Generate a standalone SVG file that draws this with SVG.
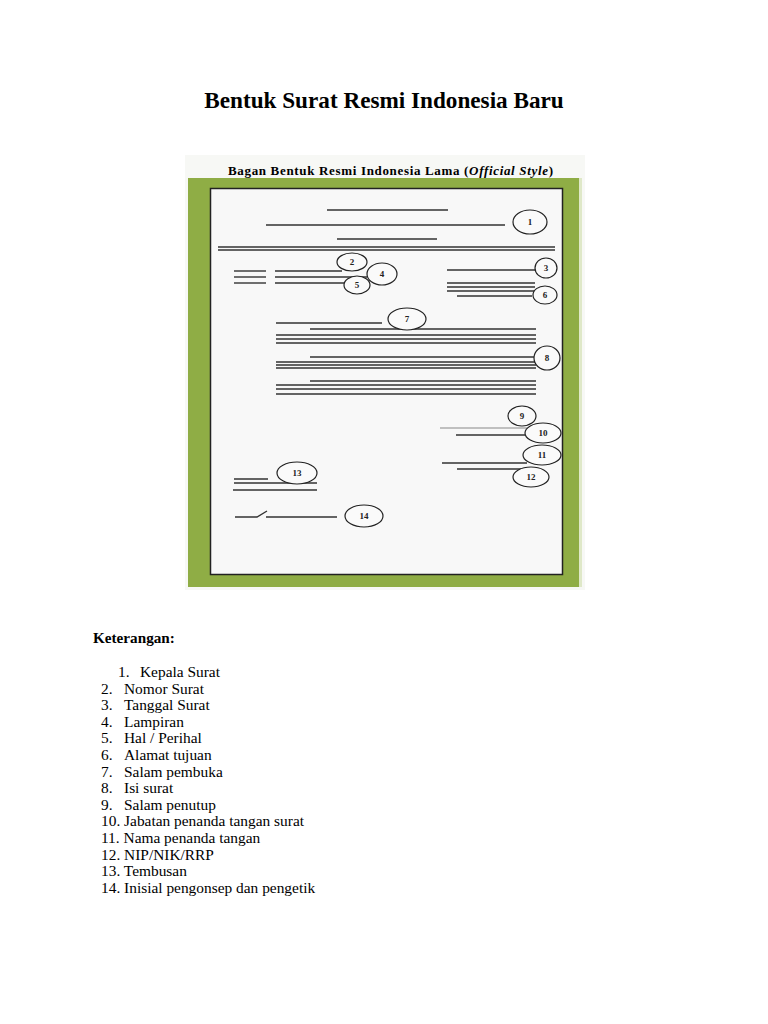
<svg xmlns="http://www.w3.org/2000/svg" width="768" height="1024" viewBox="0 0 768 1024">
<style>
.t{font-family:"Liberation Serif","Times New Roman",serif;fill:#000}
.ln{stroke:#333;stroke-width:1.4;fill:none}
.lg{stroke:#888;stroke-width:1;fill:none}
.c{fill:#fafafa;stroke:#222;stroke-width:1.2}
.n{font-family:"Liberation Serif",serif;font-weight:bold;font-size:9px;text-anchor:middle;fill:#222}
.li{font-family:"Liberation Serif","Times New Roman",serif;font-size:15.4px;fill:#000}
</style>
<rect width="768" height="1024" fill="#fff"/>
<text class="t" x="384" y="108" font-size="23.2" font-weight="bold" text-anchor="middle">Bentuk Surat Resmi Indonesia Baru</text>
<g id="figure">
<rect x="185" y="155" width="400" height="435" fill="#f7f8f5"/>
<text class="t" x="228" y="175" font-size="13" font-weight="bold" textLength="325" lengthAdjust="spacing">Bagan Bentuk Resmi Indonesia Lama (<tspan font-style="italic">Official Style</tspan>)</text>
<rect x="188" y="178" width="391" height="409" fill="#8fad45"/>
<rect x="579" y="178" width="3" height="409" fill="#dfe8c8"/>
<rect x="210.5" y="188.5" width="352" height="386" fill="#f8f8f8" stroke="#222" stroke-width="1.5"/>
</g>
<g id="connectors">
<line class="ln" x1="327" y1="210" x2="448" y2="210"/>
<line class="ln" x1="266" y1="225" x2="505" y2="225"/>
<line class="ln" x1="337" y1="239" x2="437" y2="239"/>
<line class="ln" x1="218" y1="247" x2="555" y2="247"/>
<line class="ln" x1="218" y1="250" x2="555" y2="250"/>
<line class="ln" x1="234" y1="271" x2="266" y2="271"/>
<line class="ln" x1="234" y1="277" x2="266" y2="277"/>
<line class="ln" x1="234" y1="283" x2="266" y2="283"/>
<line class="ln" x1="275" y1="271" x2="342" y2="271"/>
<line class="ln" x1="275" y1="277" x2="367" y2="277"/>
<line class="ln" x1="275" y1="283" x2="345" y2="283"/>
<line class="ln" x1="447" y1="270" x2="535" y2="270"/>
<line class="ln" x1="447" y1="283" x2="535" y2="283"/>
<line class="ln" x1="447" y1="287" x2="535" y2="287"/>
<line class="ln" x1="447" y1="291" x2="535" y2="291"/>
<line class="ln" x1="457" y1="296" x2="532" y2="296"/>
<line class="ln" x1="276" y1="323" x2="382" y2="323"/>
<line class="ln" x1="310" y1="329" x2="536" y2="329"/>
<line class="ln" x1="276" y1="335" x2="536" y2="335"/>
<line class="ln" x1="276" y1="339" x2="536" y2="339"/>
<line class="ln" x1="276" y1="343" x2="536" y2="343"/>
<line class="ln" x1="310" y1="357" x2="536" y2="357"/>
<line class="ln" x1="276" y1="362" x2="536" y2="362"/>
<line class="ln" x1="276" y1="365" x2="536" y2="365"/>
<line class="ln" x1="276" y1="368" x2="536" y2="368"/>
<line class="ln" x1="310" y1="381" x2="536" y2="381"/>
<line class="ln" x1="276" y1="385" x2="536" y2="385"/>
<line class="ln" x1="276" y1="389" x2="536" y2="389"/>
<line class="ln" x1="276" y1="394" x2="536" y2="394"/>
<line class="lg" x1="440" y1="428" x2="527" y2="428"/>
<line class="ln" x1="456" y1="435" x2="525" y2="435"/>
<line class="ln" x1="442" y1="463" x2="527" y2="463"/>
<line class="ln" x1="457" y1="469" x2="527" y2="469"/>
<line class="ln" x1="234" y1="479" x2="268" y2="479"/>
<line class="ln" x1="234" y1="483" x2="317" y2="483"/>
<line class="ln" x1="233" y1="490" x2="317" y2="490"/>
<polyline class="ln" points="235,517 257,517 267,511"/>
<line class="ln" x1="266" y1="517" x2="337" y2="517"/>
</g>
<g id="n1"><ellipse class="c" cx="530" cy="222" rx="17" ry="12"/><text class="n" x="530" y="225">1</text></g>
<g id="n2"><ellipse class="c" cx="352" cy="262" rx="15" ry="9"/><text class="n" x="352" y="265">2</text></g>
<g id="n4"><ellipse class="c" cx="382" cy="274" rx="15" ry="11"/><text class="n" x="382" y="277">4</text></g>
<g id="n5"><ellipse class="c" cx="357" cy="285" rx="13" ry="9"/><text class="n" x="357" y="288">5</text></g>
<g id="n3"><ellipse class="c" cx="546" cy="268" rx="11" ry="10"/><text class="n" x="546" y="271">3</text></g>
<g id="n6"><ellipse class="c" cx="545" cy="295" rx="12" ry="9"/><text class="n" x="545" y="298">6</text></g>
<g id="n7"><ellipse class="c" cx="407" cy="319" rx="19" ry="11"/><text class="n" x="407" y="322">7</text></g>
<g id="n8"><ellipse class="c" cx="547" cy="358" rx="13" ry="12"/><text class="n" x="547" y="361">8</text></g>
<g id="n9"><ellipse class="c" cx="522" cy="416" rx="14" ry="10"/><text class="n" x="522" y="419">9</text></g>
<g id="n10"><ellipse class="c" cx="543" cy="433" rx="18" ry="10"/><text class="n" x="543" y="436">10</text></g>
<g id="n11"><ellipse class="c" cx="542" cy="455" rx="19" ry="10"/><text class="n" x="542" y="458">11</text></g>
<g id="n12"><ellipse class="c" cx="531" cy="477" rx="18" ry="10"/><text class="n" x="531" y="480">12</text></g>
<g id="n13"><ellipse class="c" cx="297" cy="473" rx="20" ry="11"/><text class="n" x="297" y="476">13</text></g>
<g id="n14"><ellipse class="c" cx="364" cy="516" rx="19" ry="11"/><text class="n" x="364" y="519">14</text></g>
<g id="legend">
<text class="t" x="93" y="643" font-size="15.2" font-weight="bold">Keterangan:</text>
<text class="li" x="118" y="677">1.</text><text class="li" x="140" y="677">Kepala Surat</text>
<text class="li" x="101" y="693.6">2.</text><text class="li" x="124" y="693.6">Nomor Surat</text>
<text class="li" x="101" y="710.2">3.</text><text class="li" x="124" y="710.2">Tanggal Surat</text>
<text class="li" x="101" y="726.8">4.</text><text class="li" x="124" y="726.8">Lampiran</text>
<text class="li" x="101" y="743.4">5.</text><text class="li" x="124" y="743.4">Hal / Perihal</text>
<text class="li" x="101" y="760">6.</text><text class="li" x="124" y="760">Alamat tujuan</text>
<text class="li" x="101" y="776.6">7.</text><text class="li" x="124" y="776.6">Salam pembuka</text>
<text class="li" x="101" y="793.2">8.</text><text class="li" x="124" y="793.2">Isi surat</text>
<text class="li" x="101" y="809.8">9.</text><text class="li" x="124" y="809.8">Salam penutup</text>
<text class="li" x="101" y="826.4">10. Jabatan penanda tangan surat</text>
<text class="li" x="101" y="843">11. Nama penanda tangan</text>
<text class="li" x="101" y="859.6">12. NIP/NIK/RRP</text>
<text class="li" x="101" y="876.2">13. Tembusan</text>
<text class="li" x="101" y="892.8">14. Inisial pengonsep dan pengetik</text>
</g>
</svg>
